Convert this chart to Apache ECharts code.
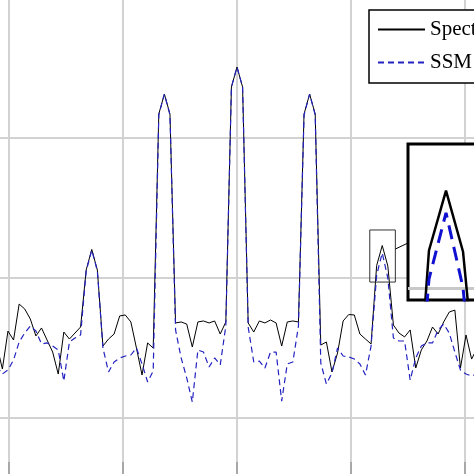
<!DOCTYPE html>
<html><head><meta charset="utf-8">
<script src="https://cdn.jsdelivr.net/npm/echarts@6/dist/echarts.min.js"></script>
<style>html,body{margin:0;padding:0;background:#fff}#c{width:474px;height:474px}</style>
</head><body><div id="c"></div><script>
// sample grid: first sample index and spacing (x axis units)
const I0 = -43;
const STEP = 0.049;
const seriesNames = ['Spectrum', 'SSM'];
// values (dB), sample i = I0 .. I0+86
const spec = [
 -24.79,-26.50,-23.79,-24.43,-21.86,-22.21,-22.93,-24.14,-23.57,-24.43,
 -25.29,-26.86,-23.86,-24.36,-23.93,-23.50,-19.43,-17.96,-19.43,-24.86,
 -24.36,-24.00,-22.71,-22.64,-23.14,-25.00,-26.93,-24.64,-25.00,-8.29,
 -6.86,-8.29,-23.21,-23.14,-23.29,-24.93,-23.14,-23.07,-23.21,-23.07,
 -24.00,-23.14,-6.36,-4.93,-6.36,-23.21,-23.86,-23.07,-23.21,-23.00,
 -23.21,-24.86,-23.14,-23.07,-23.14,-8.29,-6.86,-8.29,-24.79,-24.57,
 -26.71,-25.36,-23.07,-22.61,-22.64,-24.00,-24.36,-24.71,-19.11,-17.68,
 -19.14,-23.36,-23.93,-24.21,-23.71,-26.43,-25.14,-24.50,-23.50,-24.00,
 -23.14,-22.43,-22.29,-26.43,-24.07,-25.79,-25.00
];
const ssm = [
 -26.29,-26.86,-26.57,-25.86,-24.57,-23.93,-23.43,-23.79,-24.71,-24.64,
 -24.86,-25.14,-27.36,-24.57,-24.29,-24.07,-19.50,-18.00,-19.50,-25.00,
 -26.71,-26.00,-25.71,-25.57,-25.50,-25.00,-26.14,-27.43,-26.64,-8.36,
 -6.86,-8.36,-23.71,-25.71,-27.14,-28.86,-25.14,-25.29,-26.36,-25.71,
 -26.21,-23.43,-6.36,-4.93,-6.36,-23.50,-26.00,-25.93,-26.43,-25.29,
 -25.29,-28.79,-26.14,-26.00,-23.43,-8.36,-6.86,-8.36,-26.07,-27.57,
 -26.79,-25.00,-25.57,-25.64,-25.79,-26.14,-26.93,-24.86,-19.79,-18.21,
 -20.00,-24.29,-24.50,-24.50,-27.29,-25.71,-24.86,-24.64,-24.64,-23.71,
 -23.29,-23.93,-25.29,-26.57,-26.86,-27.00,-26.86
];
// zoomed window shown in the inset
const insetX = [1.1647, 1.389];
const insetY = [-20.29, -16.57];
const insetGridLine = -20;
const connector = [[1.389, -17.93], [1.5, -17.5]];

const pairs = a => a.map((v, k) => [(I0 + k) * STEP, v]);

const chart = echarts.init(document.getElementById('c'), null, {renderer: 'canvas'});
const gridLine = {color: '#d2d2d2', width: 2};
chart.setOption({
  animation: false,
  backgroundColor: '#fff',
  grid: [
    {left: -105, top: -2, width: 684, height: 560, outerBoundsMode: 'none', containLabel: false},
    {left: 408, top: 144, width: 78, height: 156, show: true, backgroundColor: '#fff',
     borderColor: '#000', borderWidth: 3, z: 10, outerBoundsMode: 'none', containLabel: false},
    {left: -105, top: 0, width: 684, height: 474, outerBoundsMode: 'none', containLabel: false}
  ],
  xAxis: [
    {type: 'value', gridIndex: 0, min: -3, max: 3, interval: 1,
     axisLine: {show: false}, axisLabel: {show: false}, axisTick: {show: false},
     splitLine: {show: true, lineStyle: gridLine}},
    {type: 'value', gridIndex: 1, min: insetX[0], max: insetX[1], show: false},
    {type: 'value', gridIndex: 2, min: -3, max: 3, interval: 1, position: 'bottom',
     axisLine: {show: false}, axisLabel: {show: false}, splitLine: {show: false},
     axisTick: {show: true, inside: true, length: 12, lineStyle: {color: '#a8a8a8', width: 2}}}
  ],
  yAxis: [
    {type: 'value', gridIndex: 0, min: -40, max: 0, interval: 10,
     axisLine: {show: false}, axisLabel: {show: false}, axisTick: {show: false},
     splitLine: {show: true, lineStyle: gridLine}},
    {type: 'value', gridIndex: 1, min: insetY[0], max: insetY[1], show: false},
    {type: 'value', gridIndex: 2, min: 0, max: 1, show: false}
  ],
  legend: {
    data: seriesNames, orient: 'vertical', left: 369, top: 10,
    padding: [9, 8, 10, 8], itemGap: 12, itemWidth: 47, itemHeight: 14,
    borderColor: '#000', borderWidth: 1.5, borderRadius: 0, backgroundColor: '#fff',
    itemStyle: {opacity: 0},
    textStyle: {fontFamily: 'Liberation Serif', fontSize: 21, color: '#000'}, z: 20
  },
  series: [
    {name: seriesNames[0], type: 'line', xAxisIndex: 0, yAxisIndex: 0, data: pairs(spec),
     symbol: 'none', lineStyle: {color: '#000', width: 1}, itemStyle: {color: '#000'}, z: 3,
     markArea: {silent: true, z: 4, itemStyle: {color: 'rgba(0,0,0,0)', borderColor: '#333', borderWidth: 1},
       data: [[{coord: [insetX[0], insetY[1]]}, {coord: [insetX[1], insetY[0]]}]]},
     markLine: {silent: true, z: 4, symbol: ['none', 'none'], label: {show: false},
       lineStyle: {color: '#000', width: 1, type: 'solid'},
       data: [[{coord: connector[0]}, {coord: connector[1]}]]}},
    {name: seriesNames[1], type: 'line', xAxisIndex: 0, yAxisIndex: 0, data: pairs(ssm),
     symbol: 'none', lineStyle: {color: '#2222c0', width: 1.2, type: [6, 4]}, itemStyle: {color: '#2222c0'}, z: 3},
    {name: 'inset-spec', type: 'line', xAxisIndex: 1, yAxisIndex: 1, data: pairs(spec),
     symbol: 'none', lineStyle: {color: '#000', width: 2.5}, z: 12, clip: true,
     markLine: {silent: true, z: 11, symbol: ['none', 'none'], label: {show: false},
       lineStyle: {color: '#c8c8c8', width: 3, type: 'solid'}, data: [{yAxis: insetGridLine}]}},
    {name: 'inset-ssm', type: 'line', xAxisIndex: 1, yAxisIndex: 1, data: pairs(ssm),
     symbol: 'none', lineStyle: {color: '#1010d0', width: 3, type: [14, 8]}, z: 13, clip: true}
  ]
});
</script></body></html>
